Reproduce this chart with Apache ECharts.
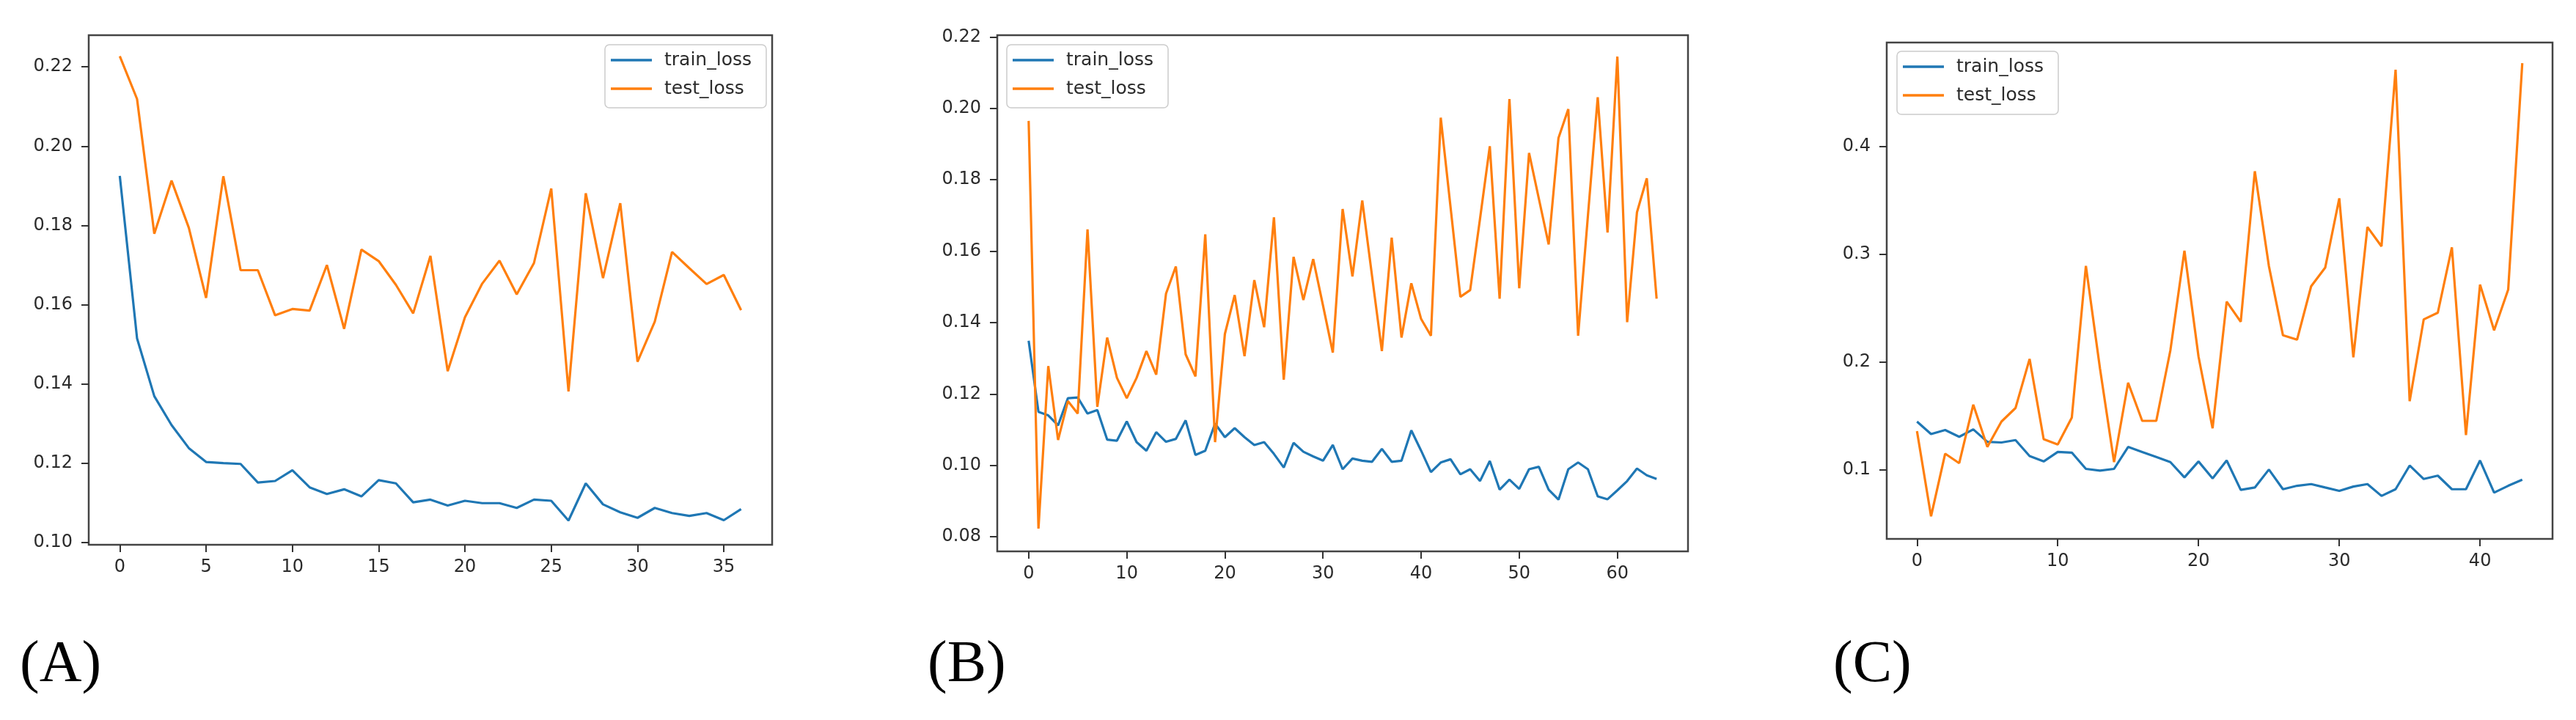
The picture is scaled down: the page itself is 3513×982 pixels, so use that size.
<!DOCTYPE html>
<html>
<head>
<meta charset="utf-8">
<script src="https://cdn.jsdelivr.net/npm/echarts@6/dist/echarts.min.js"></script>
<style>
html,body{margin:0;padding:0;background:#fff;}
#chart{width:3513px;height:982px;}
</style>
</head>
<body>
<div id="chart"></div>
<script>
// ---------- data ----------
const seriesNames = ['train_loss', 'test_loss'];
const panelLabels = ['(A)', '(B)', '(C)'];

const trainA = [0.1925,0.1515,0.1369,0.1296,0.1238,0.1203,0.1200,0.1198,0.1151,0.1155,0.1182,0.1139,0.1122,0.1134,0.1116,0.1157,0.1149,0.1101,0.1108,0.1093,0.1105,0.1099,0.1099,0.1087,0.1108,0.1105,0.1055,0.1149,0.1096,0.1076,0.1062,0.1087,0.1074,0.1067,0.1074,0.1056,0.1084];
const testA  = [0.2227,0.2119,0.1779,0.1913,0.1794,0.1617,0.1924,0.1687,0.1687,0.1573,0.1589,0.1585,0.1700,0.1539,0.1739,0.1710,0.1650,0.1578,0.1723,0.1432,0.1568,0.1653,0.1711,0.1626,0.1705,0.1893,0.1381,0.1881,0.1667,0.1856,0.1456,0.1557,0.1733,0.1692,0.1652,0.1675,0.1586];

const trainB = [0.1349,0.1150,0.1140,0.1112,0.1188,0.1190,0.1145,0.1155,0.1072,0.1069,0.1123,0.1065,0.1041,0.1093,0.1066,0.1074,0.1126,0.1029,0.1041,0.1117,0.1079,0.1104,0.1079,0.1057,0.1065,0.1032,0.0994,0.1063,0.1038,0.1025,0.1013,0.1057,0.0989,0.1019,0.1013,0.1010,0.1046,0.1010,0.1013,0.1098,0.1041,0.0981,0.1008,0.1017,0.0975,0.0989,0.0956,0.1012,0.0932,0.0960,0.0934,0.0989,0.0996,0.0932,0.0904,0.0989,0.1008,0.0989,0.0913,0.0905,0.0930,0.0956,0.0991,0.0972,0.0962];
const testB  = [0.1965,0.0823,0.1278,0.1071,0.1180,0.1145,0.1661,0.1164,0.1358,0.1245,0.1188,0.1245,0.1320,0.1254,0.1481,0.1557,0.1311,0.1249,0.1647,0.1065,0.1368,0.1477,0.1306,0.1519,0.1387,0.1695,0.1240,0.1584,0.1463,0.1578,0.1448,0.1316,0.1718,0.1529,0.1742,0.1530,0.1320,0.1638,0.1358,0.1510,0.1410,0.1363,0.1974,0.1723,0.1472,0.1491,0.1690,0.1894,0.1467,0.2026,0.1496,0.1875,0.1747,0.1619,0.1917,0.1998,0.1363,0.1699,0.2031,0.1652,0.2145,0.1401,0.1709,0.1804,0.1467];

const trainC = [0.1446,0.1330,0.1368,0.1305,0.1374,0.1258,0.1252,0.1274,0.1126,0.1076,0.1164,0.1158,0.1007,0.0991,0.1007,0.1211,0.1164,0.1117,0.1070,0.0928,0.1076,0.0919,0.1085,0.0812,0.0834,0.1001,0.0818,0.0850,0.0866,0.0834,0.0803,0.0843,0.0866,0.0756,0.0818,0.1038,0.0913,0.0944,0.0818,0.0818,0.1085,0.0787,0.0850,0.0906];
const testC  = [0.1358,0.0567,0.1148,0.1060,0.1603,0.1211,0.1446,0.1572,0.2027,0.1283,0.1233,0.1484,0.2891,0.1940,0.1070,0.1807,0.1453,0.1453,0.2106,0.3032,0.2050,0.1384,0.2560,0.2373,0.3770,0.2890,0.2247,0.2206,0.2702,0.2875,0.3519,0.2043,0.3252,0.3073,0.4712,0.1635,0.2395,0.2457,0.3063,0.1321,0.2718,0.2294,0.2671,0.4774];

const xTicksA = [0,5,10,15,20,25,30,35];
const yTicksA = [0.10,0.12,0.14,0.16,0.18,0.20,0.22];
const xTicksB = [0,10,20,30,40,50,60];
const yTicksB = [0.08,0.10,0.12,0.14,0.16,0.18,0.20,0.22];
const xTicksC = [0,10,20,30,40];
const yTicksC = [0.1,0.2,0.3,0.4];

// ---------- styling / layout ----------
const BLUE = '#1f77b4', ORANGE = '#ff7f0e';
const FONT = 'DejaVu Sans';
const pairs = arr => arr.map((v, i) => [i, v]);

const grids = [
  {left:121,  top:48, width:932, height:695},
  {left:1360, top:48, width:942, height:704},
  {left:2573, top:58, width:908, height:677}
];
const xRanges = [[-1.8, 37.8], [-3.2, 67.2], [-2.15, 45.15]];
const yRanges = [[0.0994, 0.2280], [0.0759, 0.2205], [0.0357, 0.4965]];
const xTicks = [xTicksA, xTicksB, xTicksC];
const yTicks = [yTicksA, yTicksB, yTicksC];
const yDigits = [2, 2, 1];
const trains = [trainA, trainB, trainC];
const tests = [testA, testB, testC];
const legendPos = [{left:825, top:61}, {left:1373, top:61}, {left:2587, top:70}];
const labelX = [27, 1265, 2500];

function xAxis(i){
  return {
    type:'value', gridIndex:i, min:xRanges[i][0], max:xRanges[i][1],
    axisLine:{show:false, onZero:false},
    splitLine:{show:false},
    axisTick:{show:true, length:10, lineStyle:{color:'#333', width:2}, customValues:xTicks[i]},
    axisLabel:{show:true, margin:19, fontFamily:FONT, fontSize:24, color:'#2b2b2b', customValues:xTicks[i],
      formatter: v => String(Math.round(v))}
  };
}
function yAxis(i){
  return {
    type:'value', gridIndex:i, min:yRanges[i][0], max:yRanges[i][1],
    axisLine:{show:false, onZero:false},
    splitLine:{show:false},
    axisTick:{show:true, length:10, lineStyle:{color:'#333', width:2}, customValues:yTicks[i]},
    axisLabel:{show:true, margin:22, fontFamily:FONT, fontSize:24, color:'#2b2b2b', customValues:yTicks[i],
      formatter: v => v.toFixed(yDigits[i])}
  };
}

const series = [];
for (let i = 0; i < 3; i++) {
  series.push({name:seriesNames[0], type:'line', xAxisIndex:i, yAxisIndex:i, data:pairs(trains[i]),
    showSymbol:false, symbol:'none', lineStyle:{color:BLUE, width:3.2}, itemStyle:{color:BLUE}, z:3});
  series.push({name:seriesNames[1], type:'line', xAxisIndex:i, yAxisIndex:i, data:pairs(tests[i]),
    showSymbol:false, symbol:'none', lineStyle:{color:ORANGE, width:3.2}, itemStyle:{color:ORANGE}, z:4});
}

const legends = legendPos.map(p => ({
  left:p.left, top:p.top, orient:'vertical', data:seriesNames,
  icon:'rect', itemWidth:56, itemHeight:3.5, itemGap:11,
  padding:[7,20,12,8],
  backgroundColor:'rgba(255,255,255,0.8)', borderColor:'#cccccc', borderWidth:1.5, borderRadius:6,
  textStyle:{fontFamily:FONT, fontSize:25, color:'#2b2b2b', lineHeight:28, padding:[0,0,0,12]},
  selectedMode:false
}));

const graphics = panelLabels.map((t, i) => ({
  type:'text', left:labelX[i], top:868,
  style:{text:t, font:'80px "Liberation Serif"', fill:'#000'}
}));

const option = {
  backgroundColor:'#ffffff',
  animation:false,
  grid: grids.map(g => Object.assign({show:true, borderColor:'#444', borderWidth:2.5, backgroundColor:'transparent'}, g)),
  xAxis:[0,1,2].map(xAxis),
  yAxis:[0,1,2].map(yAxis),
  legend:legends,
  series:series,
  graphic:graphics
};

const chart = echarts.init(document.getElementById('chart'), null, {renderer:'canvas'});
chart.setOption(option);
</script>
</body>
</html>
